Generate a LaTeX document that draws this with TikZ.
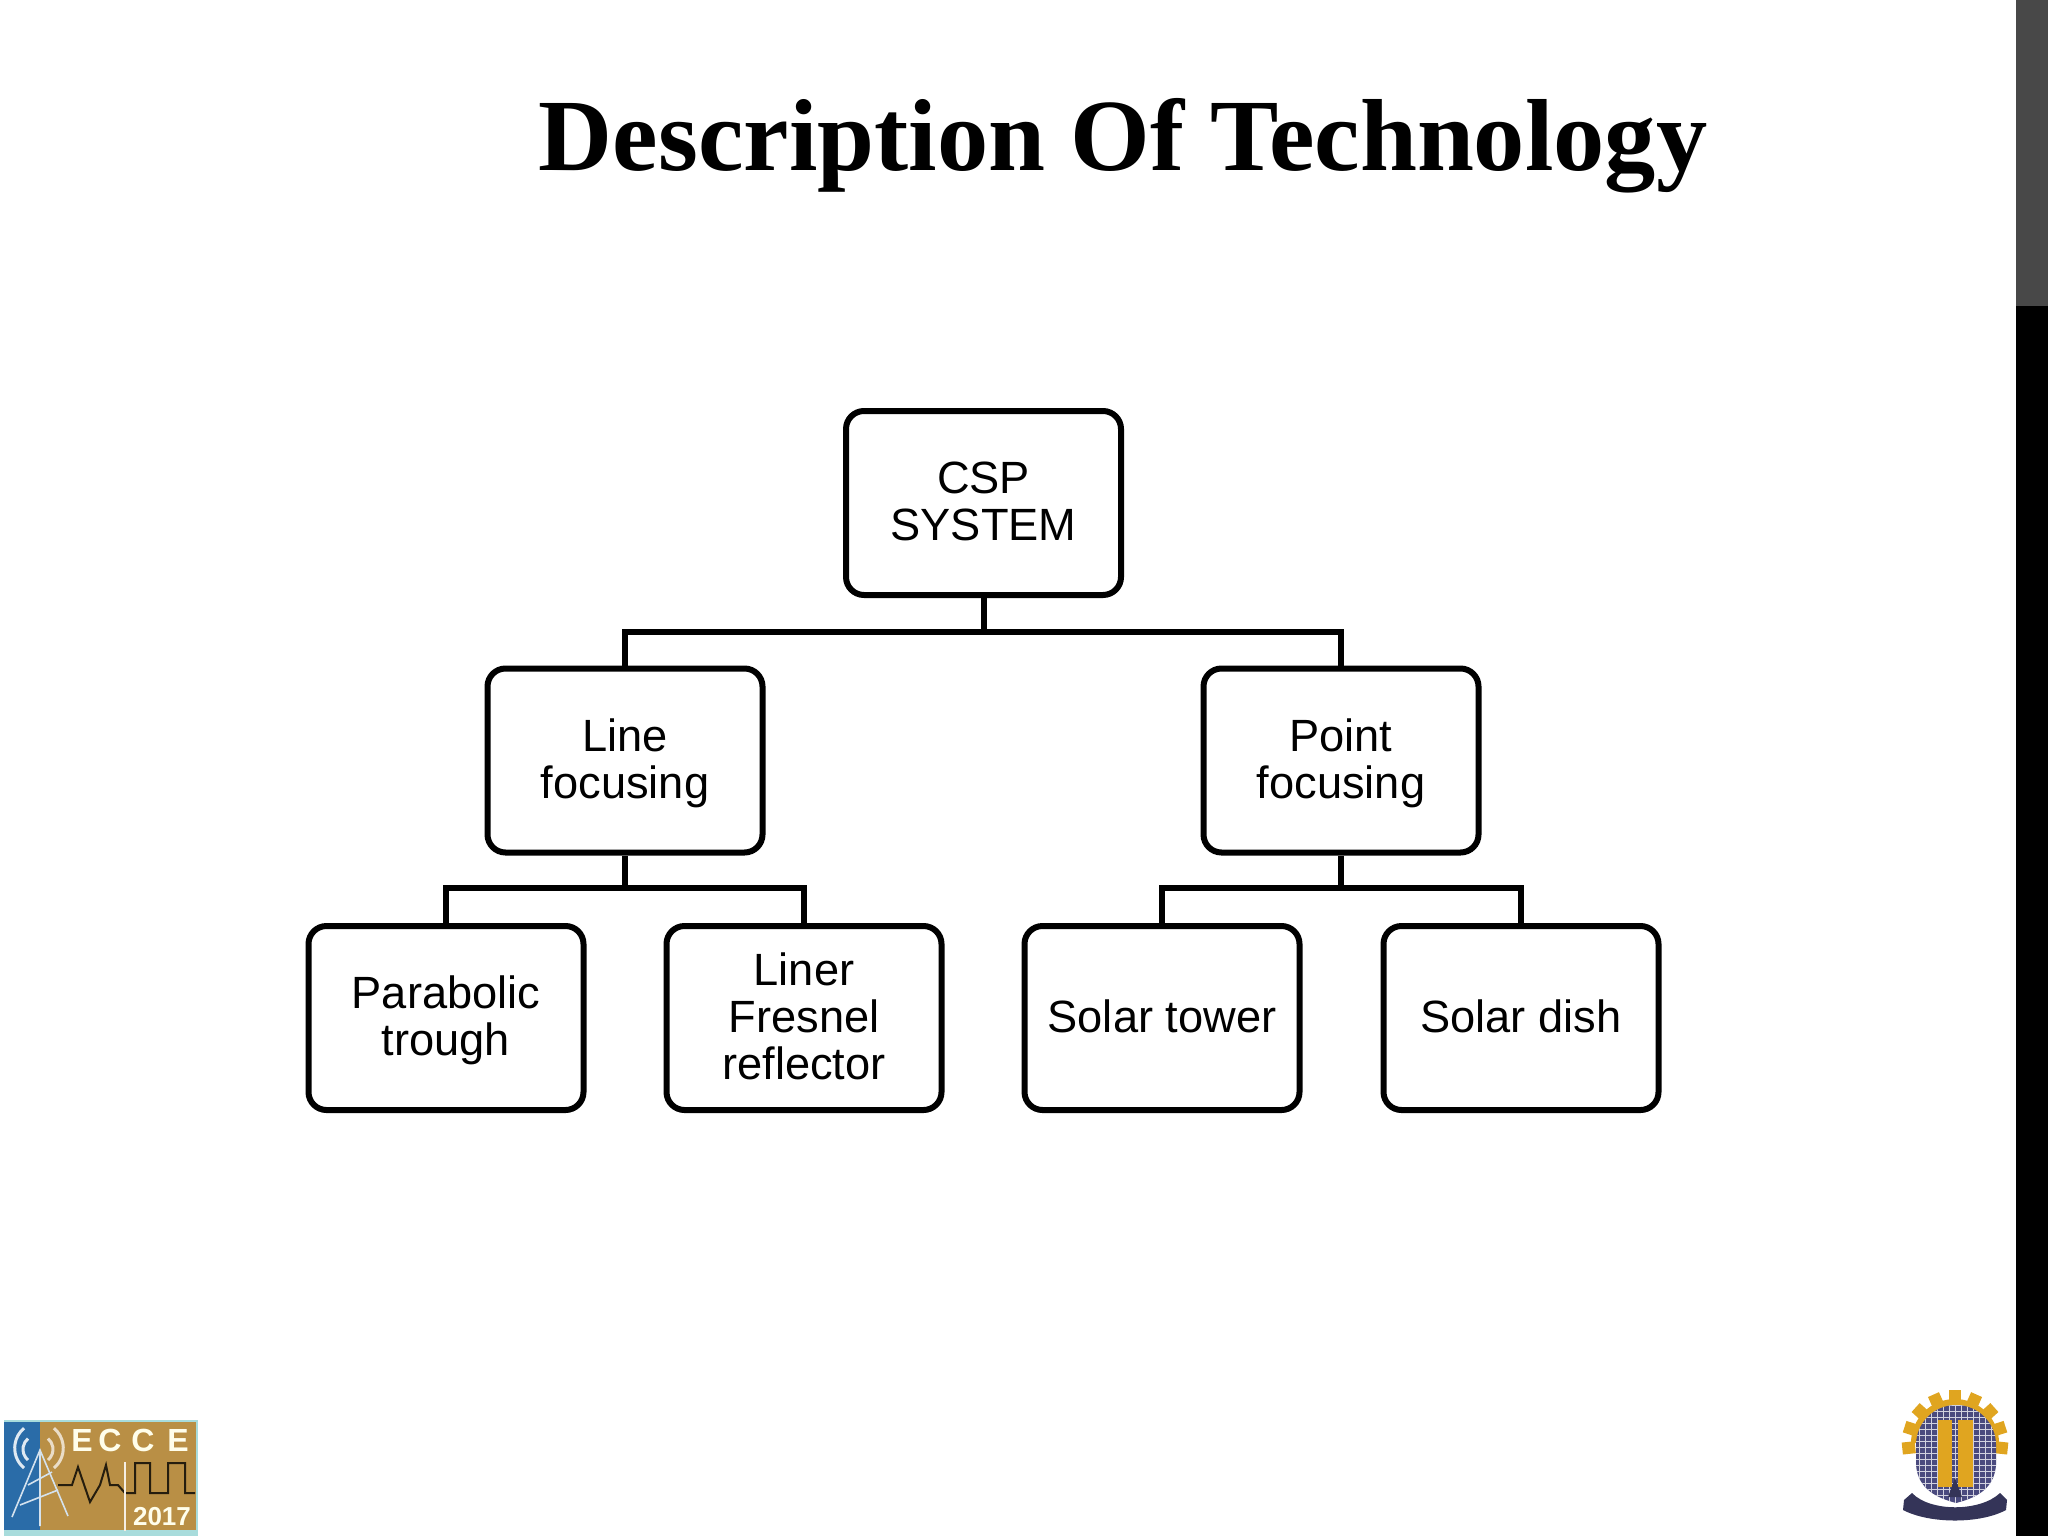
\documentclass[tikz,border=0pt]{standalone}
\usepackage{fontspec}
\setmainfont{Liberation Sans}
\newfontfamily\titlefont{Liberation Serif}
\definecolor{bar_grey}{HTML}{484848}
\definecolor{ecce_blue}{HTML}{2A6CA8}
\definecolor{ecce_brown}{HTML}{B98F45}
\definecolor{ecce_teal}{HTML}{A8DCDC}
\definecolor{crest_gold}{HTML}{E0A520}
\definecolor{crest_navy}{HTML}{4A4A7E}
\begin{document}
\begin{tikzpicture}[
    x=0.5pt, y=-0.5pt,
    title/.style={font=\titlefont\bfseries\fontsize{51.2}{54}\selectfont, anchor=base},
    component/.style={rectangle, rounded corners=9pt, align=center, draw=black, line width=3pt, minimum width=137.5pt, minimum height=92pt, inner sep=0pt, text depth=2pt, font=\fontsize{22.6}{23.5}\selectfont},
    bus/.style={draw=black, line width=3pt},
    ecce_text/.style={text=white!92!yellow, font=\bfseries\fontsize{16}{16}\selectfont, inner sep=0pt},
]
    \useasboundingbox (0, 0) rectangle (2048, 1536);
    \fill[white] (0, 0) rectangle (2048, 1536);

    % side bar
    \fill[black] (2016, 0) rectangle (2048, 1536);
    \fill[bar_grey] (2016, 0) rectangle (2048, 306);

    \node(heading)[title] at (1123, 170) {Description Of Technology};

    \node(csp)[component] at (983.5, 503) {CSP\\ SYSTEM};
    \node(line)[component] at (625, 760.5) {Line\\ focusing};
    \node(point)[component] at (1341, 760.5) {Point\\ focusing};
    \node(trough)[component] at (446, 1018) {Parabolic\\ trough};
    \node(fresnel)[component] at (804, 1018) {Liner\\ Fresnel\\ reflector};
    \node(tower)[component] at (1162, 1018) {Solar tower};
    \node(dish)[component] at (1521, 1018) {Solar dish};

    \coordinate(csp_bus) at (983.5, 632);
    \coordinate(line_bus) at (625, 888);
    \coordinate(point_bus) at (1341, 888);

    \draw[bus] (csp.south) -- (csp_bus);
    \draw[bus] (line.north) |- (csp_bus) -| (point.north);
    \draw[bus] (line.south) -- (line_bus);
    \draw[bus] (trough.north) |- (line_bus) -| (fresnel.north);
    \draw[bus] (point.south) -- (point_bus);
    \draw[bus] (tower.north) |- (point_bus) -| (dish.north);

    % ECCE logo
    \fill[ecce_teal] (4, 1420) rectangle (198, 1536);
    \fill[ecce_brown] (40, 1422) rectangle (196, 1530);
    \fill[ecce_blue] (4, 1422) rectangle (40, 1530);
    \draw[white!85!ecce_blue, line width=1.5pt] (24, 1468) arc (130:230:26);
    \draw[white!85!ecce_blue, line width=1.5pt] (28, 1460) arc (130:230:14);
    \draw[white!70!ecce_brown, line width=1.5pt] (54, 1468) arc (50:-50:26);
    \draw[white!70!ecce_brown, line width=1.5pt] (48, 1460) arc (50:-50:14);
    \draw[white!80!ecce_blue, line width=0.8pt] (12, 1517) -- (40, 1450) -- (68, 1516);
    \draw[white!80!ecce_blue, line width=0.8pt] (20, 1505) -- (58, 1490) (28, 1485) -- (52, 1472) (40, 1450) -- (40, 1526);
    \draw[black!80!ecce_brown, line width=1pt] (58, 1485) -- (72, 1485) -- (78, 1467) -- (90, 1502) -- (100, 1485) -- (106, 1465) -- (110, 1485) -- (118, 1485) -- (125, 1493) -- (135, 1493) -- (135, 1463) -- (150, 1463) -- (150, 1493) -- (168, 1493) -- (168, 1463) -- (185, 1463) -- (185, 1493) -- (195, 1493);
    \draw[white!85!ecce_brown, line width=0.8pt] (125, 1462) -- (125, 1531);
    \node(ecce_e1)[ecce_text] at (82, 1440) {E};
    \node(ecce_c1)[ecce_text] at (110, 1440) {C};
    \node(ecce_c2)[ecce_text] at (143, 1440) {C};
    \node(ecce_e2)[ecce_text] at (178, 1440) {E};
    \node(ecce_year)[ecce_text, font=\bfseries\fontsize{13}{13}\selectfont] at (162, 1517) {2017};

    % crest
    \foreach \angle in {-6, 18, ..., 186} {
        \fill[crest_gold, rotate around={\angle:(1955, 1443)}] (1995, 1437) rectangle (2008, 1449);
    }
    \fill[crest_gold] (1911, 1443) arc (180:360:44) -- cycle;
    \begin{scope}
        \path[clip] (1916, 1445) arc (180:360:40) -- (1996, 1465) .. controls (1994, 1490) and (1975, 1498) .. (1956, 1503) .. controls (1938, 1498) and (1918, 1490) .. (1916, 1465) -- cycle;
        \fill[crest_navy] (1910, 1400) rectangle (2002, 1510);
        \foreach \pos in {0, 6, ..., 90} {
            \draw[white!75!crest_navy, line width=0.5pt] (1913 + \pos, 1400) -- (1913 + \pos, 1510);
            \draw[white!75!crest_navy, line width=0.5pt] (1910, 1405 + \pos) -- (2002, 1405 + \pos);
        }
    \end{scope}
    \fill[crest_gold] (1938, 1420) rectangle (1952, 1487);
    \fill[crest_gold] (1958, 1420) rectangle (1973, 1487);
    \fill[crest_navy!70!black] (1955, 1478) -- (1962, 1497) -- (1948, 1497) -- cycle;
    \fill[crest_navy!70!black] (1904, 1500) -- (1912, 1493) .. controls (1930, 1512) and (1980, 1512) .. (2000, 1493) -- (2007, 1500) -- (2006, 1510) .. controls (1980, 1524) and (1930, 1524) .. (1903, 1510) -- cycle;
\end{tikzpicture}
\end{document}
